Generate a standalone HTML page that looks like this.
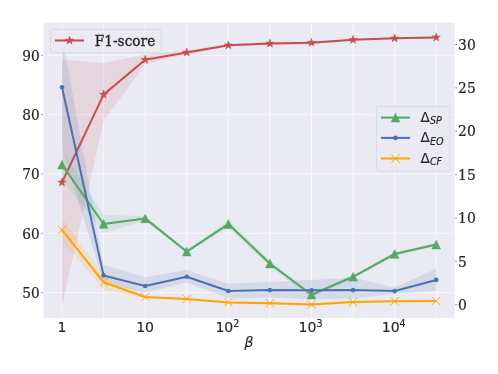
<!DOCTYPE html>
<html><head><meta charset="utf-8"><title>plot</title>
<style>html,body{margin:0;padding:0;background:#fff}svg{display:block}</style></head>
<body>
<svg width="498" height="374" viewBox="0 0 498 374">
<rect width="498" height="374" fill="#fff"/>
<rect x="43.5" y="22.75" width="411.1" height="295.15" fill="#eaeaf2"/>
<g stroke="#fff" stroke-width="0.8" stroke-opacity="0.8" fill="none">
<line x1="62" y1="22.75" x2="62" y2="317.9"/>
<line x1="103.58" y1="22.75" x2="103.58" y2="317.9"/>
<line x1="145.16" y1="22.75" x2="145.16" y2="317.9"/>
<line x1="186.74" y1="22.75" x2="186.74" y2="317.9"/>
<line x1="228.32" y1="22.75" x2="228.32" y2="317.9"/>
<line x1="269.9" y1="22.75" x2="269.9" y2="317.9"/>
<line x1="311.48" y1="22.75" x2="311.48" y2="317.9"/>
<line x1="353.06" y1="22.75" x2="353.06" y2="317.9"/>
<line x1="394.64" y1="22.75" x2="394.64" y2="317.9"/>
<line x1="436.22" y1="22.75" x2="436.22" y2="317.9"/>
<line x1="43.5" y1="55.3" x2="454.6" y2="55.3"/>
<line x1="43.5" y1="114.65" x2="454.6" y2="114.65"/>
<line x1="43.5" y1="174" x2="454.6" y2="174"/>
<line x1="43.5" y1="233.3" x2="454.6" y2="233.3"/>
<line x1="43.5" y1="292.6" x2="454.6" y2="292.6"/>
</g>
<g stroke="#262626" stroke-width="0.55" stroke-opacity="0.85">
<line x1="40.9" y1="55.3" x2="42.8" y2="55.3"/>
<line x1="40.9" y1="114.65" x2="42.8" y2="114.65"/>
<line x1="40.9" y1="174" x2="42.8" y2="174"/>
<line x1="40.9" y1="233.3" x2="42.8" y2="233.3"/>
<line x1="40.9" y1="292.6" x2="42.8" y2="292.6"/>
<line x1="455.15" y1="304.7" x2="457.15" y2="304.7"/>
<line x1="455.15" y1="261.34" x2="457.15" y2="261.34"/>
<line x1="455.15" y1="217.98" x2="457.15" y2="217.98"/>
<line x1="455.15" y1="174.62" x2="457.15" y2="174.62"/>
<line x1="455.15" y1="131.26" x2="457.15" y2="131.26"/>
<line x1="455.15" y1="87.9" x2="457.15" y2="87.9"/>
<line x1="455.15" y1="44.54" x2="457.15" y2="44.54"/>
</g>
<clipPath id="c"><rect x="43.5" y="22.75" width="411.1" height="295.15"/></clipPath>
<g clip-path="url(#c)">
<polygon points="62,59.3 103.58,63.2 145.16,54.5 186.74,50.3 228.32,44 269.9,42 311.48,41 353.06,39 394.64,37.5 436.22,36.5 436.22,38.4 394.64,39.2 353.06,40.8 311.48,44.6 269.9,45.2 228.32,46.6 186.74,54.6 145.16,64 103.58,121 62,306.2" fill="#c44e52" fill-opacity="0.12"/>
<polyline points="62,182.4 103.58,94.6 145.16,59.8 186.74,52.5 228.32,45.3 269.9,43.6 311.48,42.7 353.06,39.8 394.64,38.3 436.22,37.4" fill="none" stroke="#c44e52" stroke-width="2.05" stroke-linejoin="round"/>
<polygon points="62,178.1 62.97,181.07 66.09,181.07 63.56,182.91 64.53,185.88 62,184.04 59.47,185.88 60.44,182.91 57.91,181.07 61.03,181.07" fill="#c44e52" stroke="#c44e52" stroke-width="0.6" stroke-linejoin="miter"/>
<polygon points="103.58,90.3 104.55,93.27 107.67,93.27 105.14,95.11 106.11,98.08 103.58,96.24 101.05,98.08 102.02,95.11 99.49,93.27 102.61,93.27" fill="#c44e52" stroke="#c44e52" stroke-width="0.6" stroke-linejoin="miter"/>
<polygon points="145.16,55.5 146.13,58.47 149.25,58.47 146.72,60.31 147.69,63.28 145.16,61.44 142.63,63.28 143.6,60.31 141.07,58.47 144.19,58.47" fill="#c44e52" stroke="#c44e52" stroke-width="0.6" stroke-linejoin="miter"/>
<polygon points="186.74,48.2 187.71,51.17 190.83,51.17 188.3,53.01 189.27,55.98 186.74,54.14 184.21,55.98 185.18,53.01 182.65,51.17 185.77,51.17" fill="#c44e52" stroke="#c44e52" stroke-width="0.6" stroke-linejoin="miter"/>
<polygon points="228.32,41 229.29,43.97 232.41,43.97 229.88,45.81 230.85,48.78 228.32,46.94 225.79,48.78 226.76,45.81 224.23,43.97 227.35,43.97" fill="#c44e52" stroke="#c44e52" stroke-width="0.6" stroke-linejoin="miter"/>
<polygon points="269.9,39.3 270.87,42.27 273.99,42.27 271.46,44.11 272.43,47.08 269.9,45.24 267.37,47.08 268.34,44.11 265.81,42.27 268.93,42.27" fill="#c44e52" stroke="#c44e52" stroke-width="0.6" stroke-linejoin="miter"/>
<polygon points="311.48,38.4 312.45,41.37 315.57,41.37 313.04,43.21 314.01,46.18 311.48,44.34 308.95,46.18 309.92,43.21 307.39,41.37 310.51,41.37" fill="#c44e52" stroke="#c44e52" stroke-width="0.6" stroke-linejoin="miter"/>
<polygon points="353.06,35.5 354.03,38.47 357.15,38.47 354.62,40.31 355.59,43.28 353.06,41.44 350.53,43.28 351.5,40.31 348.97,38.47 352.09,38.47" fill="#c44e52" stroke="#c44e52" stroke-width="0.6" stroke-linejoin="miter"/>
<polygon points="394.64,34 395.61,36.97 398.73,36.97 396.2,38.81 397.17,41.78 394.64,39.94 392.11,41.78 393.08,38.81 390.55,36.97 393.67,36.97" fill="#c44e52" stroke="#c44e52" stroke-width="0.6" stroke-linejoin="miter"/>
<polygon points="436.22,33.1 437.19,36.07 440.31,36.07 437.78,37.91 438.75,40.88 436.22,39.04 433.69,40.88 434.66,37.91 432.13,36.07 435.25,36.07" fill="#c44e52" stroke="#c44e52" stroke-width="0.6" stroke-linejoin="miter"/>
<polygon points="62,149.4 103.58,215 145.16,215.9 186.74,250.8 228.32,220.1 269.9,260.6 311.48,293.2 353.06,274.8 394.64,252 436.22,242.6 436.22,246.6 394.64,256 353.06,278.8 311.48,297.2 269.9,266.6 228.32,228.1 186.74,252.4 145.16,220.9 103.58,233 62,180" fill="#55a868" fill-opacity="0.12"/>
<polygon points="62,35 103.58,265 145.16,277 186.74,270 228.32,283.7 269.9,282.1 311.48,280.1 353.06,277.6 394.64,287.4 436.22,268.8 436.22,291 394.64,293.8 353.06,298.6 311.48,299.2 269.9,297.4 228.32,298.2 186.74,282.5 145.16,292.5 103.58,283 62,148" fill="#4c72b0" fill-opacity="0.14"/>
<polygon points="62,217.4 103.58,274.5 145.16,295.3 186.74,297.6 228.32,301.2 269.9,302 311.48,303.1 353.06,300.9 394.64,300.1 436.22,299.7 436.22,302.1 394.64,302.5 353.06,303.3 311.48,305.5 269.9,304.4 228.32,303.6 186.74,300.2 145.16,298.7 103.58,289.5 62,240.6" fill="#ffa500" fill-opacity="0.14"/>
<polyline points="62,164.7 103.58,224 145.16,218.4 186.74,251.6 228.32,224.1 269.9,263.6 311.48,294.7 353.06,276.8 394.64,254 436.22,244.6" fill="none" stroke="#55a868" stroke-width="2.05" stroke-linejoin="round"/>
<polygon points="62,160.4 57.7,169 66.3,169" fill="#55a868" stroke="#55a868" stroke-width="0.6"/>
<polygon points="103.58,219.7 99.28,228.3 107.88,228.3" fill="#55a868" stroke="#55a868" stroke-width="0.6"/>
<polygon points="145.16,214.1 140.86,222.7 149.46,222.7" fill="#55a868" stroke="#55a868" stroke-width="0.6"/>
<polygon points="186.74,247.3 182.44,255.9 191.04,255.9" fill="#55a868" stroke="#55a868" stroke-width="0.6"/>
<polygon points="228.32,219.8 224.02,228.4 232.62,228.4" fill="#55a868" stroke="#55a868" stroke-width="0.6"/>
<polygon points="269.9,259.3 265.6,267.9 274.2,267.9" fill="#55a868" stroke="#55a868" stroke-width="0.6"/>
<polygon points="311.48,290.4 307.18,299 315.78,299" fill="#55a868" stroke="#55a868" stroke-width="0.6"/>
<polygon points="353.06,272.5 348.76,281.1 357.36,281.1" fill="#55a868" stroke="#55a868" stroke-width="0.6"/>
<polygon points="394.64,249.7 390.34,258.3 398.94,258.3" fill="#55a868" stroke="#55a868" stroke-width="0.6"/>
<polygon points="436.22,240.3 431.92,248.9 440.52,248.9" fill="#55a868" stroke="#55a868" stroke-width="0.6"/>
<polyline points="62,87.3 103.58,275.4 145.16,286 186.74,276.7 228.32,291 269.9,290.1 311.48,290.2 353.06,290.1 394.64,291.1 436.22,279.9" fill="none" stroke="#4c72b0" stroke-width="2.05" stroke-linejoin="round"/>
<circle cx="62" cy="87.3" r="2.3" fill="#4c72b0"/>
<circle cx="103.58" cy="275.4" r="2.3" fill="#4c72b0"/>
<circle cx="145.16" cy="286" r="2.3" fill="#4c72b0"/>
<circle cx="186.74" cy="276.7" r="2.3" fill="#4c72b0"/>
<circle cx="228.32" cy="291" r="2.3" fill="#4c72b0"/>
<circle cx="269.9" cy="290.1" r="2.3" fill="#4c72b0"/>
<circle cx="311.48" cy="290.2" r="2.3" fill="#4c72b0"/>
<circle cx="353.06" cy="290.1" r="2.3" fill="#4c72b0"/>
<circle cx="394.64" cy="291.1" r="2.3" fill="#4c72b0"/>
<circle cx="436.22" cy="279.9" r="2.3" fill="#4c72b0"/>
<polyline points="62,229.9 103.58,282.2 145.16,297 186.74,298.9 228.32,302.4 269.9,303.2 311.48,304.6 353.06,302.1 394.64,301.3 436.22,300.9" fill="none" stroke="#ffa500" stroke-width="2.05" stroke-linejoin="round"/>
<path d="M57.8,225.7L66.2,234.1M57.8,234.1L66.2,225.7" stroke="#ffa500" stroke-width="0.9" fill="none"/>
<path d="M99.38,278L107.78,286.4M99.38,286.4L107.78,278" stroke="#ffa500" stroke-width="0.9" fill="none"/>
<path d="M140.96,292.8L149.36,301.2M140.96,301.2L149.36,292.8" stroke="#ffa500" stroke-width="0.9" fill="none"/>
<path d="M182.54,294.7L190.94,303.1M182.54,303.1L190.94,294.7" stroke="#ffa500" stroke-width="0.9" fill="none"/>
<path d="M224.12,298.2L232.52,306.6M224.12,306.6L232.52,298.2" stroke="#ffa500" stroke-width="0.9" fill="none"/>
<path d="M265.7,299L274.1,307.4M265.7,307.4L274.1,299" stroke="#ffa500" stroke-width="0.9" fill="none"/>
<path d="M307.28,300.4L315.68,308.8M307.28,308.8L315.68,300.4" stroke="#ffa500" stroke-width="0.9" fill="none"/>
<path d="M348.86,297.9L357.26,306.3M348.86,306.3L357.26,297.9" stroke="#ffa500" stroke-width="0.9" fill="none"/>
<path d="M390.44,297.1L398.84,305.5M390.44,305.5L398.84,297.1" stroke="#ffa500" stroke-width="0.9" fill="none"/>
<path d="M432.02,296.7L440.42,305.1M432.02,305.1L440.42,296.7" stroke="#ffa500" stroke-width="0.9" fill="none"/>
</g>
<g font-family="'DejaVu Serif','Liberation Serif',serif" font-size="13.85" fill="#262626" stroke="#262626" stroke-width="0.2">
<text transform="translate(39.7,60.65) scale(1,1.05)" text-anchor="end" font-size="13.65">90</text>
<text transform="translate(39.7,120) scale(1,1.05)" text-anchor="end" font-size="13.65">80</text>
<text transform="translate(39.7,179.35) scale(1,1.05)" text-anchor="end" font-size="13.65">70</text>
<text transform="translate(39.7,238.65) scale(1,1.05)" text-anchor="end" font-size="13.65">60</text>
<text transform="translate(39.7,297.95) scale(1,1.05)" text-anchor="end" font-size="13.65">50</text>
<text x="458.1" y="309.9">0</text>
<text x="458.1" y="266.54">5</text>
<text x="458.1" y="223.18">10</text>
<text x="458.1" y="179.82">15</text>
<text x="458.1" y="136.46">20</text>
<text x="458.1" y="93.1">25</text>
<text x="458.1" y="49.74">30</text>
</g>
<g font-family="'DejaVu Sans','Liberation Sans',sans-serif" font-size="14.05" fill="#262626" stroke="#262626" stroke-width="0.15">
<text transform="translate(62,332) scale(1,1.05)" text-anchor="middle">1</text>
<text transform="translate(145.06,332) scale(1,1.05)" text-anchor="middle">10</text>
<text transform="translate(215.42,332) scale(1,1.05)">10<tspan font-size="9.5" dy="-4.4" dx="0">2</tspan></text>
<text transform="translate(298.58,332) scale(1,1.05)">10<tspan font-size="9.5" dy="-4.4" dx="0">3</tspan></text>
<text transform="translate(381.74,332) scale(1,1.05)">10<tspan font-size="9.5" dy="-4.4" dx="0">4</tspan></text>
<text x="249" y="346.5" text-anchor="middle" font-style="italic" font-size="14.05">β</text>
</g>
<rect x="50.6" y="29.4" width="110.6" height="23.1" rx="2" fill="#eaeaf2" fill-opacity="0.8" stroke="#ccc" stroke-opacity="0.6" stroke-width="0.8"/>
<line x1="55" y1="40.5" x2="84" y2="40.5" stroke="#c44e52" stroke-width="2.05"/>
<polygon points="69.5,36.2 70.47,39.17 73.59,39.17 71.06,41.01 72.03,43.98 69.5,42.14 66.97,43.98 67.94,41.01 65.41,39.17 68.53,39.17" fill="#c44e52" stroke="#c44e52" stroke-width="0.6" stroke-linejoin="miter"/>
<text transform="translate(0,45.7) scale(1,1.07) translate(0,-45.7)" x="94.7" y="45.7" font-family="'DejaVu Serif','Liberation Serif',serif" font-size="13.75" fill="#262626" stroke="#262626" stroke-width="0.3">F1-score</text>
<rect x="376.4" y="106.4" width="73.6" height="64.8" rx="2" fill="#eaeaf2" fill-opacity="0.8" stroke="#ccc" stroke-opacity="0.6" stroke-width="0.8"/>
<line x1="381" y1="117.6" x2="410.1" y2="117.6" stroke="#55a868" stroke-width="2.05"/>
<polygon points="395.5,113.3 391.2,121.9 399.8,121.9" fill="#55a868" stroke="#55a868" stroke-width="0.6"/>
<text x="420.6" y="122" font-family="'DejaVu Sans','Liberation Sans',sans-serif" font-size="13.6" fill="#262626" stroke="#262626" stroke-width="0.15">Δ<tspan font-style="italic" font-size="9.6" dy="2.2">SP</tspan></text>
<line x1="381" y1="137.9" x2="410.1" y2="137.9" stroke="#4c72b0" stroke-width="2.05"/>
<circle cx="395.5" cy="137.9" r="2.3" fill="#4c72b0"/>
<text x="420.6" y="142.3" font-family="'DejaVu Sans','Liberation Sans',sans-serif" font-size="13.6" fill="#262626" stroke="#262626" stroke-width="0.15">Δ<tspan font-style="italic" font-size="9.6" dy="2.2">EO</tspan></text>
<line x1="381" y1="158.5" x2="410.1" y2="158.5" stroke="#ffa500" stroke-width="2.05"/>
<path d="M391.3,154.3L399.7,162.7M391.3,162.7L399.7,154.3" stroke="#ffa500" stroke-width="0.9" fill="none"/>
<text x="420.6" y="162.9" font-family="'DejaVu Sans','Liberation Sans',sans-serif" font-size="13.6" fill="#262626" stroke="#262626" stroke-width="0.15">Δ<tspan font-style="italic" font-size="9.6" dy="2.2">CF</tspan></text>
</svg>
</body></html>
